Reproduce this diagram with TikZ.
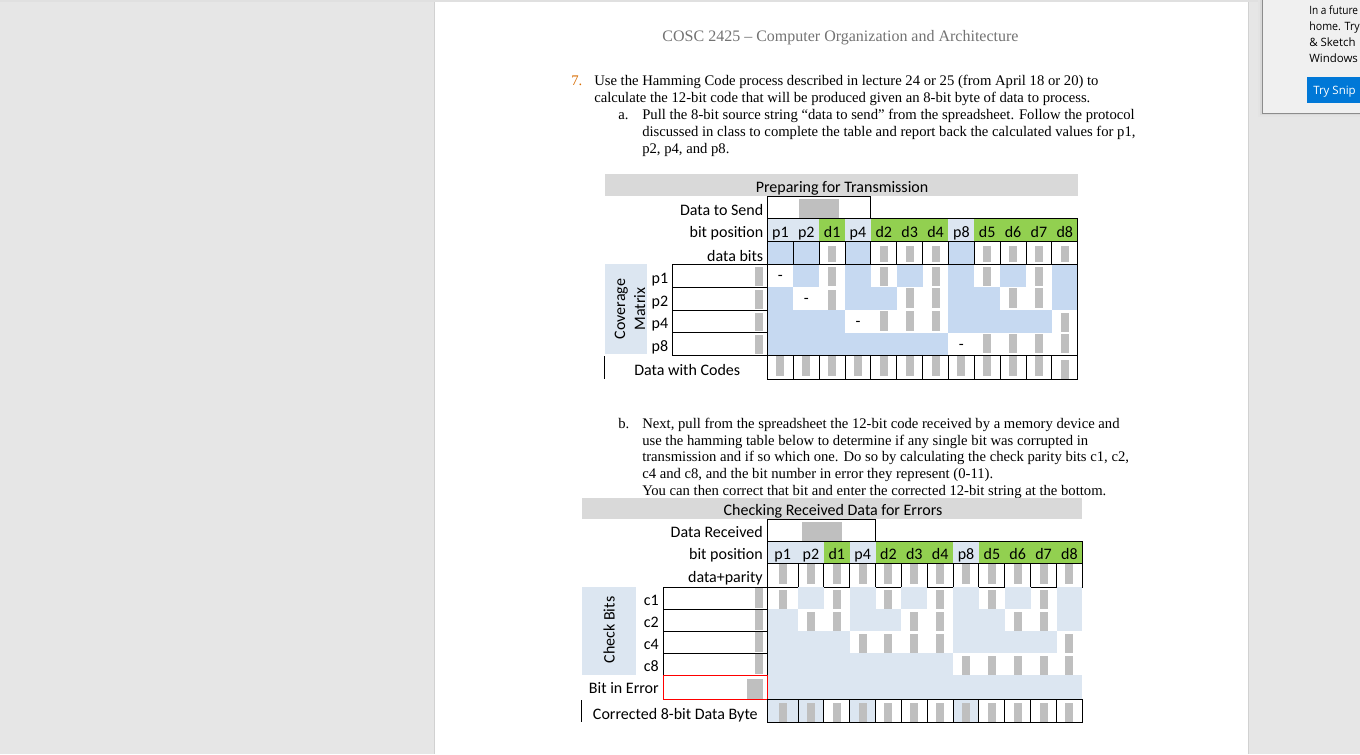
\documentclass[tikz,border=0pt]{standalone}
\usepackage{fontspec}
\setmainfont{Liberation Serif}
\newfontfamily\calibri{Carlito}
\newfontfamily\segoe{Open Sans}
\definecolor{pagegray}{HTML}{E6E6E6}
\definecolor{bargray}{HTML}{BFBFBF}
\definecolor{titlegray}{HTML}{D9D9D9}
\definecolor{covblue}{HTML}{C6D9F1}
\definecolor{chkblue}{HTML}{DCE6F1}
\definecolor{bitgreen}{HTML}{92D050}
\definecolor{snipblue}{HTML}{0078D7}
\tikzset{
  body/.style={anchor=base west,inner sep=0pt,font=\fontsize{11}{13}\selectfont},
  lbl/.style={anchor=base east,inner sep=0pt,font=\calibri\fontsize{12}{14}\selectfont},
  bitlbl/.style={anchor=base,inner sep=0pt,font=\calibri\fontsize{12}{14}\selectfont},
  popup/.style={anchor=base west,inner sep=0pt,font=\segoe\fontsize{8.6}{10}\selectfont},
  grid/.style={draw=black,line width=.75pt},
}
\newcommand{\widerfirst}{0}
% bar inset at top, at bottom, and the drop of a kind h bar
\newcommand{\setbar}[3]{\def\insa{#1}\def\insb{#2}\def\insh{#3}}
\setbar{3}{1.5}{0}
% x0, cell width, top, bottom, shade, cell kinds: b shade, g bar, h low bar, m dash, s shade and bar
\newcommand{\cellrow}[6]{
  \foreach \k [count=\i from 0] in {#6} {
    \pgfmathsetmacro{\xa}{#1+#2*\i+(\i>0)*\widerfirst}
    \pgfmathsetmacro{\xb}{#1+#2*(\i+1)+\widerfirst}
    \pgfmathsetmacro{\xm}{(\xa+\xb)/2}
    \if\k b \fill[#5] (\xa,#3) rectangle (\xb,#4); \fi
    \if\k g \fill[bargray] (\xm-4,#3+\insa) rectangle (\xm+4,#4-\insb); \fi
    \if\k h \fill[bargray] (\xm-4,#3+\insa+\insh) rectangle (\xm+4,#4-\insb+\insh); \fi
    \if\k m \node[bitlbl] at (\xm,{(#3+#4)/2+5}) {-}; \fi
    \if\k s \fill[#5] (\xa,#3) rectangle (\xb,#4);
      \fill[bargray] (\xm-4,#3+\insa) rectangle (\xm+4,#4-\insb); \fi
  }
}
% x0, cell width, top, bottom: one row of twelve boxes
\newcommand{\boxrow}[4]{
  \foreach \i in {0,...,11} {
    \pgfmathsetmacro{\xa}{#1+#2*\i+(\i>0)*\widerfirst}
    \pgfmathsetmacro{\xb}{#1+#2*(\i+1)+\widerfirst}
    \draw[grid] (\xa,#3) rectangle (\xb,#4);
  }
}
% x0, cell width, top, bottom, baseline: the header row
\newcommand{\headrow}[5]{
  \foreach \t/\f [count=\i from 0] in {p1/chkblue,p2/chkblue,d1/bitgreen,p4/chkblue,d2/bitgreen,d3/bitgreen,d4/bitgreen,p8/chkblue,d5/bitgreen,d6/bitgreen,d7/bitgreen,d8/bitgreen} {
    \pgfmathsetmacro{\xa}{#1+#2*\i+(\i>0)*\widerfirst}
    \pgfmathsetmacro{\xb}{#1+#2*(\i+1)+\widerfirst}
    \fill[\f] (\xa,#3) rectangle (\xb,#4);
    \node[bitlbl] (head\t) at ({(\xa+\xb)/2},#5) {\t};
  }
  \draw[grid] (#1,#3) rectangle ({#1+#2*12+\widerfirst},#4);
}
\begin{document}
\begin{tikzpicture}[x=.75pt,y=-.75pt]
  \useasboundingbox (0,0) rectangle (1360,754);
  \fill[pagegray] (0,0) rectangle (1360,754);
  \fill[white] (434,2) rectangle (1248,754);
  \draw[black!18] (434,2) -- (434,754) (1248,2) -- (1248,754);
  \fill[black!12] (0,0) rectangle (1360,2);

  \fill[black!11] (1258,0) rectangle (1360,117);
  \fill[black!15] (1260,0) rectangle (1360,115);
  \fill[black!6] (1263,0) rectangle (1360,113);
  \draw[black!45] (1262.5,0) -- (1262.5,113) -- (1360,113);
  \fill[snipblue] (1307,77) rectangle (1360,103);
  \node[popup] (snip1) at (1309,14) {\scalebox{.88}[1]{In a future}};
  \node[popup] (snip2) at (1309,30) {\scalebox{.93}[1]{home. Try}};
  \node[popup] (snip3) at (1309,46) {\& Sketch};
  \node[popup] (snip4) at (1309,62) {Windows};
  \node[popup,text=white] (snipbtn) at (1313,94) {Try Snip};

  \node[anchor=base,inner sep=0pt,text=black!55,font=\fontsize{12}{14}\selectfont] (coursetitle) at (840.5,41) {COSC 2425 -- Computer Organization and Architecture};
  \node[body,text=orange!85!black] (q7) at (571,85.5) {7.};
  \node[body] (q7a) at (594,85.5) {Use the Hamming Code process described in lecture 24 or 25 (from April 18 or 20) to};
  \node[body] (q7b) at (594,102.5) {calculate the 12-bit code that will be produced given an 8-bit byte of data to process.};
  \node[body] (qa) at (618,119.5) {a.};
  \node[body] (qa1) at (642,119.5) {Pull the 8-bit source string ``data to send'' from the spreadsheet. Follow the protocol};
  \node[body] (qa2) at (642,136.5) {discussed in class to complete the table and report back the calculated values for p1,};
  \node[body] (qa3) at (642,153.5) {p2, p4, and p8.};
  \node[body] (qb) at (618,428) {b.};
  \node[body] (qb1) at (642,428) {Next, pull from the spreadsheet the 12-bit code received by a memory device and};
  \node[body] (qb2) at (642,445) {use the hamming table below to determine if any single bit was corrupted in};
  \node[body] (qb3) at (642,461) {transmission and if so which one. Do so by calculating the check parity bits c1, c2,};
  \node[body] (qb4) at (642,478) {c4 and c8, and the bit number in error they represent (0-11).};
  \node[body] (qb5) at (642,495) {You can then correct that bit and enter the corrected 12-bit string at the bottom.};

  % first table
  \fill[titlegray] (605,174) rectangle (1077.7,196);
  \node[bitlbl] (sendtitle) at (842,192) {Preparing for Transmission};
  \fill[bargray] (799,199) rectangle (839,218.3);
  \draw[grid] (767.5,196) rectangle (870.7,218.3);
  \node[lbl] (sendlbl) at (763.5,215) {Data to Send};
  \headrow{767.5}{25.85}{218.3}{241.3}{237}
  \node[lbl] (poslbl) at (763.5,237) {bit position};
  \setbar{4.7}{2}{0}
  \cellrow{767.5}{25.85}{241.3}{264.3}{covblue}{b,b,g,b,g,g,g,b,g,g,g,g}
  \boxrow{767.5}{25.85}{241.3}{264.3}
  \node[lbl] (bitslbl) at (763.5,261) {data bits};
  \fill[chkblue] (605,264.3) rectangle (647.3,354);
  \node[rotate=90,align=center,inner sep=0pt,font=\calibri\fontsize{12}{15}\selectfont] (covlbl) at (630,309) {Coverage\\Matrix};
  \setbar{3}{1.6}{0}
  \cellrow{767.5}{25.85}{264.3}{287.3}{covblue}{m,b,g,b,g,b,g,b,g,b,g,b}
  \setbar{.7}{2.3}{2}
  \cellrow{767.5}{25.85}{287.3}{310.3}{covblue}{b,m,h,b,b,g,g,b,b,g,g,b}
  \setbar{.7}{2}{1.7}
  \cellrow{767.5}{25.85}{310.3}{332.7}{covblue}{b,b,b,m,g,g,g,b,b,b,b,h}
  \setbar{.9}{2.3}{0}
  \cellrow{767.5}{25.85}{332.7}{355.3}{covblue}{b,b,b,b,b,b,b,m,g,g,g,g}
  \foreach \n/\ya/\yb/\yt in {p1/264.3/287.3/283,p2/287.3/310.3/306,p4/310.3/332.7/328.5,p8/332.7/355.3/351} {
    \fill[bargray] (755,\ya+2.7) rectangle (763,\yb-1.3);
    \draw[grid] (672.3,\ya) rectangle (767.5,\yb);
    \node[lbl] (cov\n) at (668.5,\yt) {\n};
  }
  \draw[grid] (767.5,264.3) -- (1077.7,264.3) -- (1077.7,355.3) -- (767.5,355.3);
  \setbar{.7}{3.3}{3.5}
  \cellrow{767.5}{25.85}{355.3}{379}{covblue}{g,g,g,g,g,g,g,g,g,g,g,h}
  \boxrow{767.5}{25.85}{355.3}{379}
  \node[bitlbl,anchor=base west] (codeslbl) at (634,375) {Data with Codes};
  \coordinate (marka) at (604.7,356);
  \coordinate (markb) at (604.7,379);
  \draw[grid] (marka) -- (markb);

  % second table
  \renewcommand{\widerfirst}{4.85}
  \fill[titlegray] (582,498.3) rectangle (1082.3,519);
  \node[bitlbl] (chktitle) at (833,515) {Checking Received Data for Errors};
  \fill[bargray] (802,522) rectangle (842,541.3);
  \draw[grid] (767.3,519) rectangle (875.3,541.3);
  \node[lbl] (recvlbl) at (763,537.2) {Data Received};
  \headrow{767.3}{25.85}{541.3}{563.7}{559}
  \node[lbl] (pos2lbl) at (763,559) {bit position};
  \setbar{.5}{3.3}{0}
  \cellrow{767.3}{25.85}{563.7}{587.3}{chkblue}{g,g,g,g,g,g,g,g,g,g,g,g}
  \boxrow{767.3}{25.85}{563.7}{587.3}
  \node[lbl] (paritylbl) at (763,582.5) {data+parity};
  \fill[chkblue] (582,587.3) rectangle (636,675.3);
  \node[rotate=90,inner sep=0pt,font=\calibri\fontsize{12}{14}\selectfont] (checklbl) at (609,630) {Check Bits};
  \setbar{2.7}{0.2}{0}
  \cellrow{767.3}{25.85}{587.3}{609.3}{chkblue}{g,b,g,b,g,b,g,b,g,b,g,b}
  \cellrow{767.3}{25.85}{609.3}{631.3}{chkblue}{b,g,g,b,b,g,g,b,b,g,g,b}
  \cellrow{767.3}{25.85}{631.3}{653.3}{chkblue}{b,b,b,g,g,g,g,b,b,b,b,g}
  \cellrow{767.3}{25.85}{653.3}{675.3}{chkblue}{b,b,b,b,b,b,b,g,g,g,g,g}
  \cellrow{767.3}{25.85}{675.3}{699.3}{chkblue}{b,b,b,b,b,b,b,b,b,b,b,b}
  \foreach \n/\ya/\yb/\yt in {c1/587.3/609.3/605,c2/609.3/631.3/627,c4/631.3/653.3/649,c8/653.3/675.3/671} {
    \fill[bargray] (755,\ya+1) rectangle (763,\yb-1);
    \draw[grid] (663.3,\ya) rectangle (767.3,\yb);
    \node[lbl] (chk\n) at (659,\yt) {\n};
  }
  \fill[bargray] (747,679) rectangle (763,699.3);
  \draw[red,line width=.75pt] (663.3,675.3) rectangle (767.3,699.3);
  \node[lbl] (errlbl) at (659,693) {Bit in Error};
  \setbar{3.7}{0}{0}
  \cellrow{767.3}{25.85}{699.3}{722.3}{chkblue}{s,s,g,s,g,g,g,s,g,g,g,g}
  \boxrow{767.3}{25.85}{699.3}{722.3}
  \node[bitlbl,anchor=base west] (fixlbl) at (592.7,719) {Corrected 8-bit Data Byte};
  \coordinate (markc) at (581.3,700);
  \coordinate (markd) at (581.3,722);
  \draw[grid] (markc) -- (markd);
\end{tikzpicture}
\end{document}
